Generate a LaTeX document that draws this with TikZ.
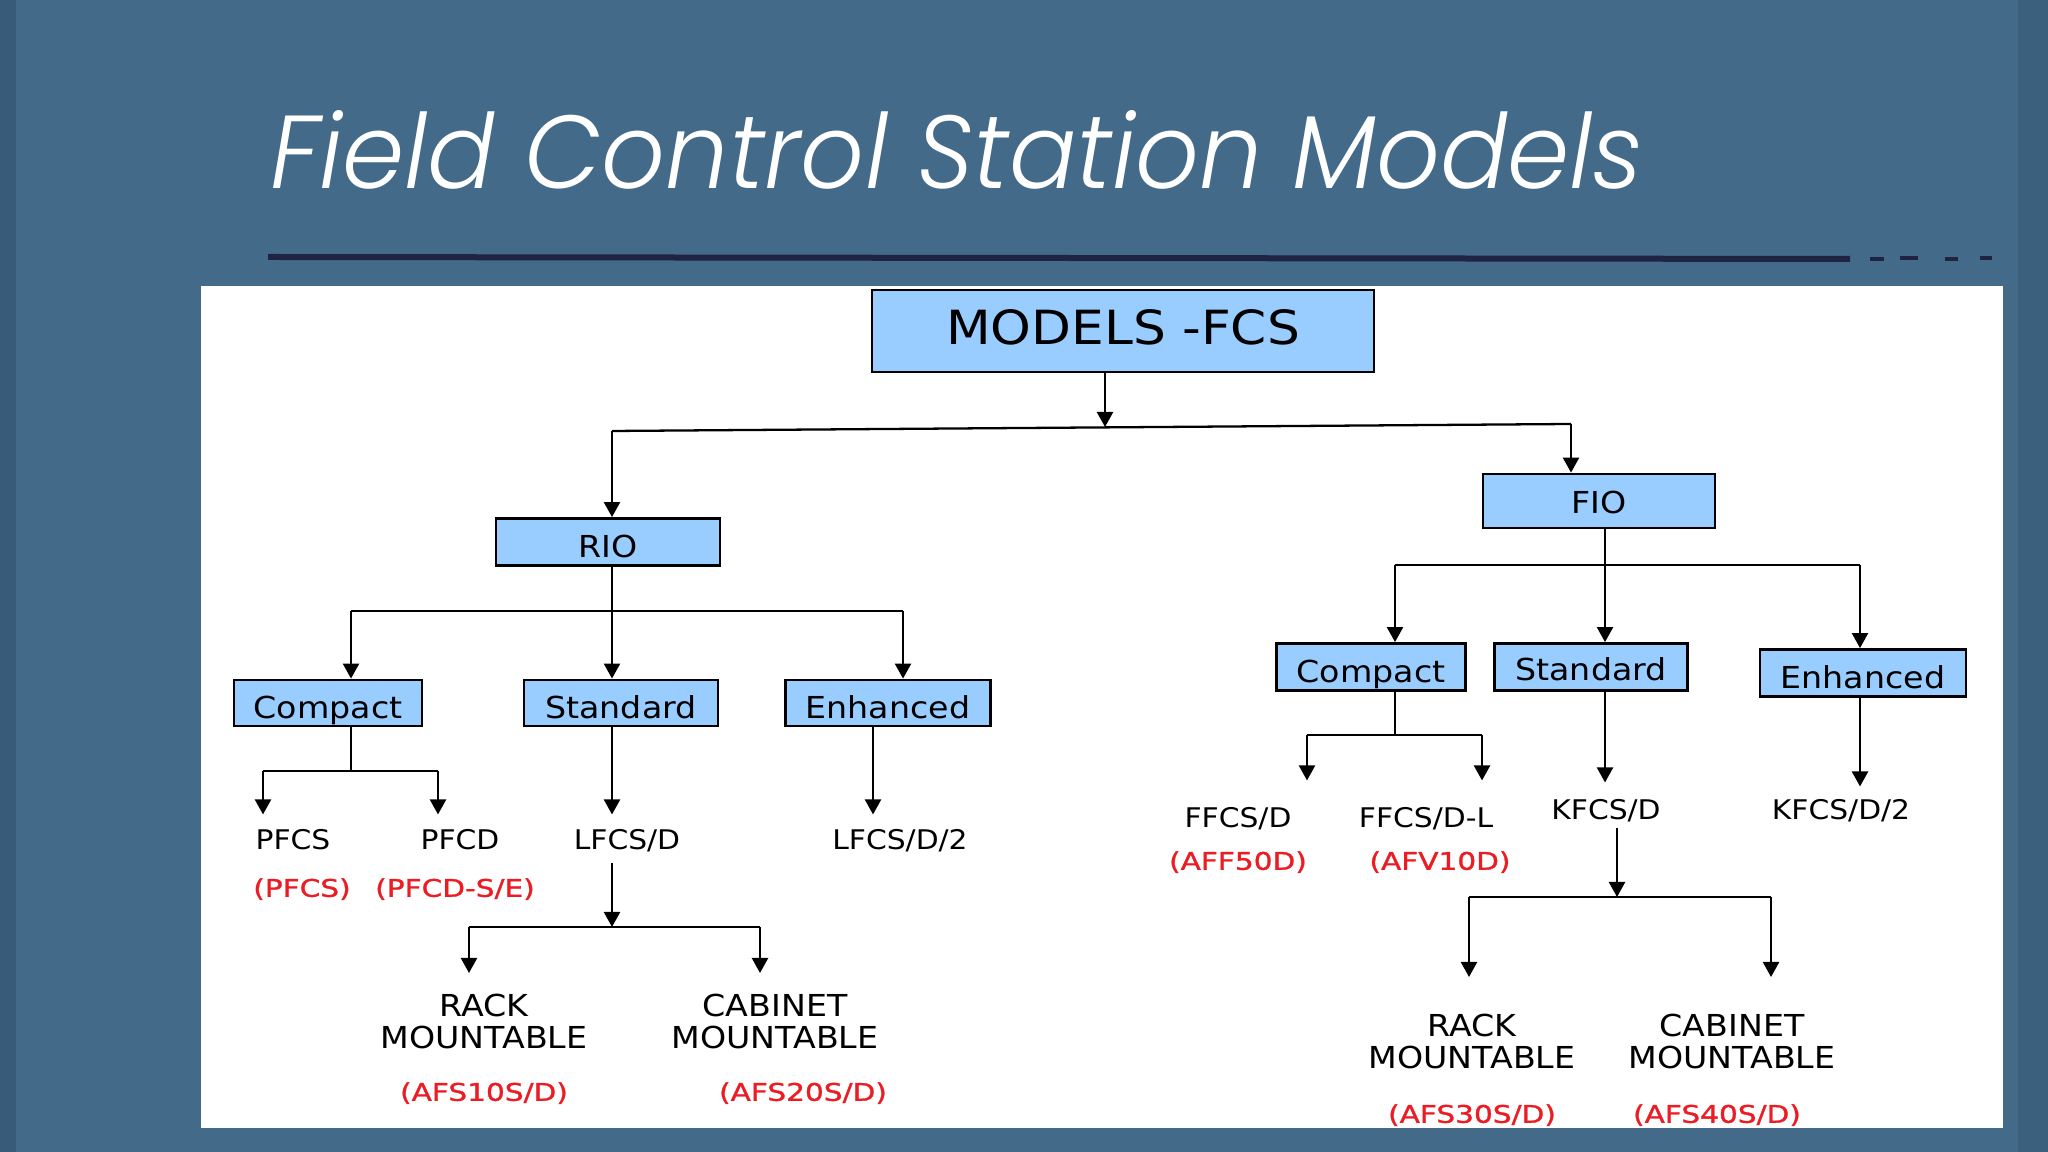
\documentclass[tikz,border=0pt]{standalone}
\usepackage{fontspec}
\usepackage{graphicx}
\usepackage{tikz}
\usetikzlibrary{arrows.meta}
\newfontfamily\boxfont{DejaVu Sans}[FakeStretch=1.1]
\newfontfamily\redfont{DejaVu Sans}[FakeStretch=1.22, FakeBold=1.2]
\newfontfamily\titlefont{Poppins}[UprightFont=* Light, ItalicFont=* Light Italic]
\definecolor{slate}{RGB}{67,106,137}
\definecolor{slatedark}{RGB}{48,82,110}
\definecolor{inkline}{RGB}{30,36,66}
\definecolor{boxblue}{RGB}{153,204,255}
\definecolor{codered}{RGB}{236,28,36}
\begin{document}
\begin{tikzpicture}[x=0.1mm, y=-0.1mm,
	box/.style={draw, line width=0.8pt, fill=boxblue, inner sep=0pt, font=\boxfont\fontsize{8.6}{10}\selectfont, text height=8.6pt, text depth=0pt},
	lbl/.style={inner sep=0pt, font=\boxfont\fontsize{7.7}{9}\selectfont, text height=5.6pt, text depth=0pt},
	mnt/.style={inner sep=0pt, align=center, anchor=north, font=\boxfont\fontsize{8.6}{9.1}\selectfont},
	code/.style={inner sep=0pt, text=codered, font=\redfont\fontsize{6.9}{8}\selectfont, text height=5pt, text depth=0pt},
	wire/.style={line width=0.65pt},
	arr/.style={wire, -{Triangle[length=1.5mm, width=1.6mm]}}]
	% Slide and title:
	\useasboundingbox (0,0) rectangle (2048,1152);
	\fill[slate] (0,0) rectangle (2048,1152);
	\fill[slatedark, opacity=0.6] (0,0) rectangle (16,1152);
	\fill[slatedark, opacity=0.4] (2018,0) rectangle (2048,1152);
	\node[text=white, anchor=base west, inner sep=0pt] (title) at (270,189) {\resizebox{137.3mm}{7.8mm}{\titlefont\itshape Field Control Station Models}};
	\draw[inkline, line width=0.6mm] (268,257) -- (1850,259);
	\draw[inkline, line width=0.35mm] (1870,259) -- (1884,259) (1900,258) -- (1918,258) (1945,259) -- (1958,259) (1980,258) -- (1992,258);
	\fill[white] (201,286) rectangle (2003,1128);
	% Boxes:
	\node[box, minimum width=50.2mm, minimum height=8.2mm, font=\boxfont\fontsize{13.4}{15}\selectfont, text height=7.6pt] (fcs) at (1123,331) {MODELS -FCS};
	\node[box, minimum width=22.4mm, minimum height=4.7mm] (rio) at (608,542) {RIO};
	\node[box, minimum width=18.8mm, minimum height=4.6mm] (rCmp) at (328,703) {Compact};
	\node[box, minimum width=19.4mm, minimum height=4.6mm] (rStd) at (621,703) {Standard};
	\node[box, minimum width=20.5mm, minimum height=4.6mm] (rEnh) at (888,703) {Enhanced};
	\node[box, minimum width=23.2mm, minimum height=5.4mm, text height=7pt] (fio) at (1599,501) {FIO};
	\node[box, minimum width=18.9mm, minimum height=4.7mm] (fCmp) at (1371,667) {Compact};
	\node[box, minimum width=19.3mm, minimum height=4.7mm, text height=7.6pt] (fStd) at (1591,667) {Standard};
	\node[box, minimum width=20.6mm, minimum height=4.7mm] (fEnh) at (1863,673) {Enhanced};
	% Labels:
	\node[lbl] (pfcs) at (293,840) {PFCS};
	\node[lbl] (pfcd) at (460,840) {PFCD};
	\node[lbl] (lfcs) at (627,840) {LFCS/D};
	\node[lbl] (lfcsb) at (900,840) {LFCS/D/2};
	\node[code] (pfcsC) at (302,888) {(PFCS)};
	\node[code] (pfcdC) at (455,888) {(PFCD-S/E)};
	\node[mnt] (rackL) at (484,993) {RACK\\MOUNTABLE};
	\node[mnt] (cabL) at (775,993) {CABINET\\MOUNTABLE};
	\node[code] (afs10) at (484,1092) {(AFS10S/D)};
	\node[code] (afs20) at (803,1092) {(AFS20S/D)};
	\node[lbl] (ffcs) at (1238,818) {FFCS/D};
	\node[lbl] (ffcsl) at (1426,818) {FFCS/D-L};
	\node[lbl] (kfcs) at (1606,810) {KFCS/D};
	\node[lbl] (kfcsb) at (1841,810) {KFCS/D/2};
	\node[code] (aff50) at (1238,861) {(AFF50D)};
	\node[code] (afv10) at (1440,861) {(AFV10D)};
	\node[mnt] (rackR) at (1472,1013) {RACK\\MOUNTABLE};
	\node[mnt] (cabR) at (1732,1013) {CABINET\\MOUNTABLE};
	\node[code] (afs30) at (1472,1114) {(AFS30S/D)};
	\node[code] (afs40) at (1717,1114) {(AFS40S/D)};
	% Paths and wires:
	\coordinate (topTee) at (1105,427);
	\coordinate (topL) at (612,431);
	\coordinate (topR) at (1571,424);
	\draw[arr] (fcs.south -| topTee) -- (topTee);
	\draw[wire] (topL) -- (topR);
	\draw[arr] (topL) -- (rio.north -| topL);
	\draw[arr] (topR) -- (fio.north -| topR);
	\coordinate (rioL) at (351,611);
	\coordinate (rioR) at (903,611);
	\draw[wire] (rioL) -- (rioR);
	\draw[arr] (rio.south -| topL) -- (rStd.north -| topL);
	\draw[arr] (rioL) -- (rCmp.north -| rioL);
	\draw[arr] (rioR) -- (rEnh.north -| rioR);
	\coordinate (pL) at (263,771);
	\coordinate (pR) at (438,771);
	\coordinate (eX) at (873,771);
	\draw[wire] (rCmp.south -| rioL) -- (rioL |- pL);
	\draw[wire] (pL) -- (pR);
	\draw[arr, shorten >=1.5mm] (pL) -- (pL |- pfcs.north);
	\draw[arr, shorten >=1.5mm] (pR) -- (pR |- pfcd.north);
	\draw[arr, shorten >=1.5mm] (rStd.south -| topL) -- (topL |- lfcs.north);
	\draw[arr, shorten >=1.5mm] (rEnh.south -| eX) -- (eX |- lfcsb.north);
	\coordinate (lL) at (469,927);
	\coordinate (lR) at (760,927);
	\draw[wire] (lL) -- (lR);
	\draw[arr, shorten <=1.2mm] (topL |- lfcs.south) -- (topL |- lL);
	\draw[arr, shorten >=2mm] (lL) -- (lL |- rackL.north);
	\draw[arr, shorten >=2mm] (lR) -- (lR |- cabL.north);
	\coordinate (fioL) at (1395,565);
	\coordinate (fioR) at (1860,565);
	\coordinate (fioX) at (1605,565);
	\draw[wire] (fioL) -- (fioR);
	\draw[arr] (fio.south -| fioX) -- (fStd.north -| fioX);
	\draw[arr] (fioL) -- (fCmp.north -| fioL);
	\draw[arr] (fioR) -- (fEnh.north -| fioR);
	\coordinate (ffL) at (1307,735);
	\coordinate (ffR) at (1482,735);
	\draw[wire] (fCmp.south -| fioL) -- (fioL |- ffL);
	\draw[wire] (ffL) -- (ffR);
	\draw[arr, shorten >=2.7mm] (ffL) -- (ffL |- ffcs.north);
	\draw[arr, shorten >=2.7mm] (ffR) -- (ffR |- ffcsl.north);
	\draw[arr, shorten >=1.7mm] (fStd.south -| fioX) -- (fioX |- kfcs.north);
	\draw[arr, shorten >=1.3mm] (fEnh.south -| fioR) -- (fioR |- kfcsb.north);
	\coordinate (kX) at (1617,897);
	\coordinate (kL) at (1469,897);
	\coordinate (kR) at (1771,897);
	\draw[wire] (kL) -- (kR);
	\draw[arr, shorten <=0.7mm] (kfcs.south -| kX) -- (kX);
	\draw[arr, shorten >=3.6mm] (kL) -- (kL |- rackR.north);
	\draw[arr, shorten >=3.6mm] (kR) -- (kR |- cabR.north);
\end{tikzpicture}
\end{document}
